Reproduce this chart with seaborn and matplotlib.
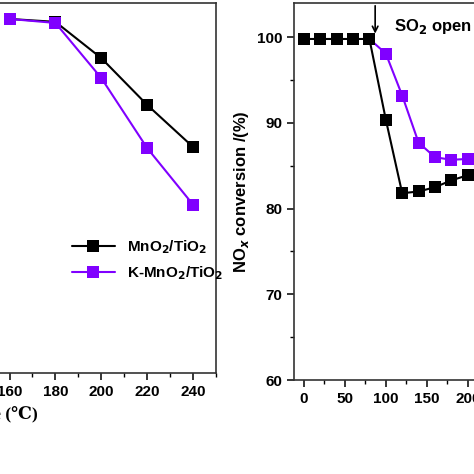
import matplotlib
matplotlib.use("Agg")
import matplotlib.pyplot as plt
import seaborn as sns
from matplotlib.ticker import MultipleLocator

sns.set_style("ticks")
plt.rcParams['font.family'] = ['Liberation Sans', 'DejaVu Sans']
plt.rcParams['font.weight'] = 'bold'
plt.rcParams['text.color'] = 'black'
plt.rcParams['axes.labelcolor'] = 'black'
plt.rcParams['xtick.color'] = 'black'
plt.rcParams['ytick.color'] = 'black'

temp = [160, 180, 200, 220, 240]
mno2_temp = [97.6, 96.8, 86.8, 73.9, 62.3]
kmno2_temp = [97.6, 96.5, 81.3, 62.0, 46.4]

time = [0, 20, 40, 60, 80, 100, 120, 140, 160, 180, 200]
mno2_time = [99.8, 99.8, 99.8, 99.8, 99.8, 90.4, 81.8, 82.0, 82.5, 83.3, 83.9]
time_k = [80, 100, 120, 140, 160, 180, 200]
kmno2_time = [99.8, 98.1, 93.2, 87.7, 86.0, 85.7, 85.8]

BLACK = "#000000"
PURPLE = "#8000ff"

fig = plt.figure(figsize=(4.74, 4.74), dpi=100)
ax1 = fig.add_axes([-0.3186, 0.2131, 0.7743, 0.7806])
ax2 = fig.add_axes([0.6203, 0.1983, 0.574, 0.7954])

kw = dict(marker='s', markersize=8, linewidth=1.5, markeredgewidth=0)
sns.lineplot(x=temp, y=mno2_temp, ax=ax1, color=BLACK, label="MnO$_2$/TiO$_2$", **kw)
sns.lineplot(x=temp, y=kmno2_temp, ax=ax1, color=PURPLE, label="K-MnO$_2$/TiO$_2$", **kw)
ax1.set_xlim(90, 250)
ax1.set_ylim(0, 102)
ax1.set_xticks([100, 120, 140, 160, 180, 200, 220, 240])
ax1.xaxis.set_minor_locator(MultipleLocator(10))
ax1.set_yticks([])
ax1.text(0.515, -0.09, "Temperature (\u2103)", transform=ax1.transAxes, ha='right',
         va='top', fontsize=12.5, fontweight='bold', family=['Liberation Serif', 'DejaVu Serif'])
leg = ax1.legend(loc='upper left', bbox_to_anchor=(0.57, 0.40), frameon=False,
                 fontsize=11, handlelength=2.8, labelspacing=0.5)

sns.lineplot(x=time_k, y=kmno2_time, ax=ax2, color=PURPLE, **kw)
sns.lineplot(x=time, y=mno2_time, ax=ax2, color=BLACK, **kw)
ax2.set_xlim(-12, 320)
ax2.set_ylim(60, 104)
ax2.set_xticks([0, 50, 100, 150, 200, 250, 300])
ax2.set_yticks([60, 70, 80, 90, 100])
ax2.xaxis.set_minor_locator(MultipleLocator(25))
ax2.yaxis.set_minor_locator(MultipleLocator(5))
ax2.set_ylabel("NO$_x$ conversion /(%)", fontsize=12, fontweight='bold')
ax2.annotate("", xy=(87, 100.1), xytext=(87, 104),
             arrowprops=dict(arrowstyle='->', color='black', lw=1.2))
ax2.text(110, 101.3, "SO$_2$ open", fontsize=12, fontweight='bold', va='center')

for ax in (ax1, ax2):
    for s in ax.spines.values():
        s.set_linewidth(1.2)
        s.set_color('#333333')
    ax.tick_params(direction='out', labelsize=11, width=1.1, length=5)
    ax.tick_params(which='minor', direction='out', width=1.0, length=3)
    for lab in ax.get_xticklabels() + ax.get_yticklabels():
        lab.set_fontweight('bold')

fig.savefig("out.png", dpi=100)
